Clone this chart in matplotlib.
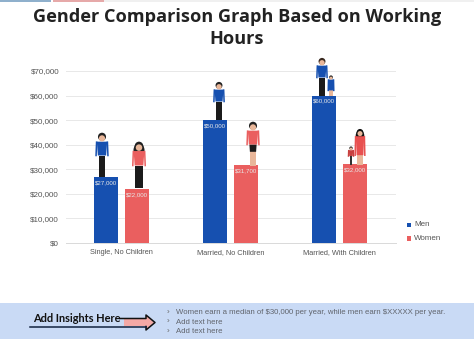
import numpy as np
import matplotlib
matplotlib.use("Agg")
import matplotlib.pyplot as plt
from matplotlib.patches import Rectangle, Circle, Polygon, Ellipse

# chart data
categories = ["Single, No Children", "Married, No Children", "Married, With Children"]
men = [27000, 50000, 60000]
women = [22000, 31700, 32000]
men_labels = ["\\$27,000", "\\$50,000", "\\$60,000"]
women_labels = ["\\$22,000", "\\$31,700", "\\$32,000"]
y_ticks = [0, 10000, 20000, 30000, 40000, 50000, 60000, 70000]
insights = ["Women earn a median of \\$30,000 per year, while men earn \\$XXXXX per year.",
            "Add text here", "Add text here"]

BLUE = "#1650b0"
RED = "#ea5f5f"
SKIN = "#e9b79a"
DARK = "#1b1b1b"
W, H = 474, 355

fig = plt.figure(figsize=(W / 100, H / 100), dpi=100)
plt.rcParams["font.family"] = ["Liberation Sans", "DejaVu Sans"]

# overlay in pixel coordinates for the slide decoration
deco = fig.add_axes([0, 0, 1, 1], zorder=0)
deco.set_xlim(0, W)
deco.set_ylim(H, 0)
deco.axis("off")

deco.add_patch(Rectangle((0, 0), 51, 2, color="#8fb0cc", lw=0))
deco.add_patch(Rectangle((53, 0), 51, 2, color="#e6a9a9", lw=0))
deco.add_patch(Rectangle((104, 0), 370, 2, color="#f0f0f0", lw=0))
deco.add_patch(Rectangle((0, 303), W, 36, color="#c9daf5", lw=0))

deco.text(237, 17.5, "Gender Comparison Graph Based on Working", ha="center", va="center",
          fontsize=13.1, fontweight="bold", family="Open Sans", color="#222222")
deco.text(237, 38.5, "Hours", ha="center", va="center",
          fontsize=13.1, fontweight="bold", family="Open Sans", color="#222222")

# arrow in the insight band
deco.add_patch(Polygon([(124, 319), (146, 319), (146, 315.5), (154, 322.5), (146, 329.5), (146, 326), (124, 326)],
                       facecolor="#f4a9a6", lw=0))
deco.plot([120, 146, 146, 155, 146, 146], [318.5, 318.5, 315, 322.5, 330, 326.5], color="#111111", lw=1.1)
deco.plot([30, 146], [326.5, 326.5], color="#12233f", lw=1.1)
deco.text(33, 319, "Add Insights Here", fontsize=7.9, fontweight="bold", family="Lato",
          color="#111111", va="center", ha="left")
for i, line in enumerate(insights):
    y = 312.5 + i * 9.5
    deco.text(167, y, "\u203a", fontsize=6.0, color="#666666", va="center")
    deco.text(176, y, line, fontsize=5.6, color="#60646c", va="center")

# bar chart
ax = fig.add_axes([66 / W, (H - 243) / H, 330 / W, 172 / H], zorder=1)
ax.patch.set_alpha(0)
x = np.arange(len(categories))
width = 0.225
bars_m = ax.bar(x - 0.143, men, width, color=BLUE, label="Men", zorder=3)
bars_w = ax.bar(x + 0.143, women, width, color=RED, label="Women", zorder=3)
for bars, labels in ((bars_m, men_labels), (bars_w, women_labels)):
    for b, lab in zip(bars, labels):
        ax.text(b.get_x() + b.get_width() / 2, b.get_height() - 2300, lab, ha="center", va="center",
                fontsize=4.4, color="#e8e8e8", zorder=4)

ax.set_xlim(-0.51, 2.52)
ax.set_ylim(0, 70000)
ax.set_yticks(y_ticks)
ax.set_yticklabels([f"\\${v:,}" for v in y_ticks])
ax.set_xticks(x)
ax.set_xticklabels(categories)
ax.tick_params(axis="x", length=0, labelsize=5.3, labelcolor="#555555", pad=4)
ax.tick_params(axis="y", length=0, labelsize=5.8, labelcolor="#555555", pad=5)
ax.grid(axis="y", color="#e8e8e8", lw=0.7, zorder=0)
for s in ["top", "right", "left"]:
    ax.spines[s].set_visible(False)
ax.spines["bottom"].set_color("#d9d9d9")
ax.spines["bottom"].set_linewidth(0.7)

# legend
for y, name, col in ((225, "Men", BLUE), (238.5, "Women", RED)):
    deco.add_patch(Rectangle((407, y - 2.2), 4.5, 4.5, color=col, lw=0))
    deco.text(414, y, name, fontsize=5.8, color="#555555", va="center")

# people standing on the bars
top_ax = fig.add_axes([0, 0, 1, 1], zorder=2)
top_ax.set_xlim(0, W)
top_ax.set_ylim(H, 0)
top_ax.axis("off")


def person(cx, top, feet, shirt, legs, hair, skirt=None, dress=False, long_hair=False):
    h = feet - top
    r = h * 0.085
    w = h * 0.12
    hy = top + r
    sy = top + 2.1 * r
    hip = top + h * (0.72 if dress else 0.5)
    if long_hair:
        top_ax.add_patch(Ellipse((cx, hy + r), r * 2.9, r * 4.2, color=hair, lw=0))
    top_ax.add_patch(Rectangle((cx - w * 0.65, hip), w * 0.6, feet - hip, color=legs, lw=0))
    top_ax.add_patch(Rectangle((cx + w * 0.05, hip), w * 0.6, feet - hip, color=legs, lw=0))
    if skirt:
        top_ax.add_patch(Polygon([(cx - w * 0.7, hip), (cx + w * 0.7, hip), (cx + w * 0.6, hip + h * 0.17),
                                  (cx - w * 0.6, hip + h * 0.17)], color=skirt, lw=0))
    top_ax.add_patch(Polygon([(cx - w, sy), (cx + w, sy), (cx + w * 0.8, hip), (cx - w * 0.8, hip)],
                             color=shirt, lw=0))
    top_ax.plot([cx - w * 1.05, cx - w * 1.15], [sy + 0.5, hip], color=shirt, lw=1.1)
    top_ax.plot([cx + w * 1.05, cx + w * 1.15], [sy + 0.5, hip], color=shirt, lw=1.1)
    top_ax.add_patch(Circle((cx, hy - r * 0.25), r * 1.1, color=hair, lw=0))
    top_ax.add_patch(Circle((cx, hy + r * 0.2), r * 0.85, color=SKIN, lw=0))


person(102, 134, 177, BLUE, DARK, "#222222")
person(139, 143, 188, RED, DARK, "#222222", long_hair=True)
person(219, 83, 120, BLUE, DARK, "#222222")
person(253, 123, 166, RED, SKIN, "#222222", skirt=DARK)
person(322, 59, 96, BLUE, DARK, "#3a2a20")
person(331, 76, 96, BLUE, SKIN, "#222222", dress=True)
person(360, 130, 165, "#e8504f", SKIN, "#111111", dress=True, long_hair=True)
person(351, 147, 165, "#c8403f", "#333333", "#222222")

fig.savefig("out.png", dpi=100)
